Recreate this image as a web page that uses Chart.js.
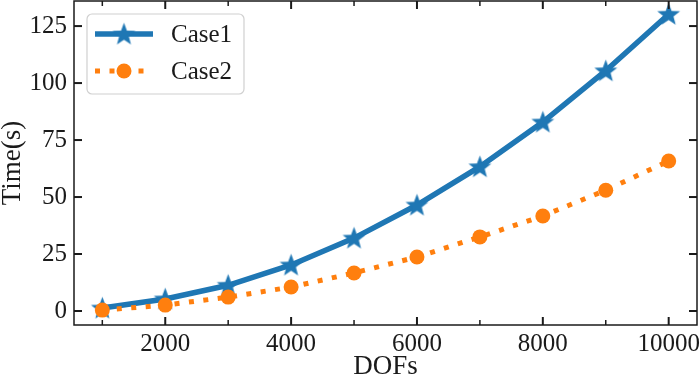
<!DOCTYPE html>
<html>
<head>
<meta charset="utf-8">
<script src="https://cdn.jsdelivr.net/npm/chart.js@4/dist/chart.umd.min.js"></script>
<style>
html,body{margin:0;padding:0;background:#fff;}
#wrap{width:700px;height:379px;position:relative;}
</style>
</head>
<body>
<div id="wrap"><canvas id="c" width="700" height="379"></canvas></div>
<script>
const dofs = [1000, 2000, 3000, 4000, 5000, 6000, 7000, 8000, 9000, 10000];
const case1 = [1.3, 5.3, 11.3, 20.2, 32.0, 46.5, 63.3, 82.9, 105.4, 130.2];
const case2 = [0.4, 2.6, 6.1, 10.5, 16.7, 23.7, 32.5, 41.7, 53.0, 65.8];
const xMajorTicks = [2000, 4000, 6000, 8000, 10000];
const xMinorTicks = [1000, 3000, 5000, 7000, 9000];
const yMajorTicks = [0, 25, 50, 75, 100, 125];
const seriesNames = ['Case1', 'Case2'];

const BLUE = '#1f77b4', ORANGE = '#ff7f0e', INK = '#1a1a1a';
const FONT = '"Liberation Serif", "Times New Roman", serif';

function makeStar(size, color) {
  const c = document.createElement('canvas');
  c.width = size; c.height = size;
  const g = c.getContext('2d');
  const cx = size / 2, cy = size / 2 + 0.8, R = size / 2 - 0.5, r = R * 0.42;
  g.beginPath();
  for (let i = 0; i < 10; i++) {
    const a = -Math.PI / 2 + i * Math.PI / 5;
    const rr = i % 2 === 0 ? R : r;
    const x = cx + rr * Math.cos(a), y = cy + rr * Math.sin(a);
    if (i === 0) g.moveTo(x, y); else g.lineTo(x, y);
  }
  g.closePath();
  g.fillStyle = color;
  g.fill();
  return c;
}
const starImg = makeStar(25, BLUE);

const framePlugin = {
  id: 'frame',
  afterDatasetsDraw(chart) {
    const {ctx, chartArea: a, scales} = chart;
    ctx.save();
    ctx.strokeStyle = INK;
    ctx.lineWidth = 2;
    const tick = (x1, y1, x2, y2) => { ctx.beginPath(); ctx.moveTo(x1, y1); ctx.lineTo(x2, y2); ctx.stroke(); };
    xMajorTicks.forEach(v => {
      const x = scales.x.getPixelForValue(v);
      tick(x, a.bottom, x, a.bottom - 8);
      tick(x, a.top, x, a.top + 8);
    });
    ctx.lineWidth = 1.5;
    xMinorTicks.forEach(v => {
      const x = scales.x.getPixelForValue(v);
      tick(x, a.bottom, x, a.bottom - 5);
      tick(x, a.top, x, a.top + 5);
    });
    ctx.lineWidth = 2;
    yMajorTicks.forEach(v => {
      const y = scales.y.getPixelForValue(v);
      tick(a.left, y, a.left + 8, y);
      tick(a.right, y, a.right - 8, y);
    });
    ctx.lineWidth = 1.5;
    ctx.strokeRect(a.left, a.top, a.right - a.left, a.bottom - a.top);
    ctx.restore();
  },
  afterDraw(chart) {
    const {ctx, chartArea: a} = chart;
    const ds = chart.data.datasets;
    ctx.save();
    const bx = a.left + 13, by = a.top + 13, bw = 157, bh = 80, rad = 5;
    ctx.beginPath();
    ctx.roundRect(bx, by, bw, bh, rad);
    ctx.fillStyle = 'rgba(255,255,255,0.85)';
    ctx.fill();
    ctx.strokeStyle = '#d0d0d0';
    ctx.lineWidth = 1.2;
    ctx.stroke();
    const rows = [by + 20, by + 57];
    ds.forEach((d, i) => {
      const y = rows[i];
      const x1 = bx + 8, x2 = bx + 66, xm = (x1 + x2) / 2;
      ctx.strokeStyle = d.borderColor;
      ctx.lineWidth = d.borderWidth;
      ctx.setLineDash(d.borderDash || []);
      ctx.beginPath(); ctx.moveTo(x1, y); ctx.lineTo(x2, y); ctx.stroke();
      ctx.setLineDash([]);
      if (d.pointStyle instanceof HTMLCanvasElement) {
        ctx.drawImage(d.pointStyle, xm - d.pointStyle.width / 2, y - d.pointStyle.height / 2);
      } else {
        ctx.beginPath(); ctx.arc(xm, y, d.pointRadius, 0, Math.PI * 2);
        ctx.fillStyle = d.pointBackgroundColor; ctx.fill();
      }
      ctx.fillStyle = INK;
      ctx.font = '25px ' + FONT;
      ctx.textBaseline = 'middle';
      ctx.textAlign = 'left';
      ctx.fillText(d.label, bx + 84, y + 1);
    });
    ctx.restore();
  }
};

new Chart(document.getElementById('c'), {
  type: 'line',
  data: {
    datasets: [
      {
        label: seriesNames[0],
        data: dofs.map((x, i) => ({x, y: case1[i]})),
        borderColor: BLUE, backgroundColor: BLUE,
        borderWidth: 5.5, pointStyle: starImg, pointRadius: 12.5,
        pointBackgroundColor: BLUE, tension: 0, order: 2, clip: false
      },
      {
        label: seriesNames[1],
        data: dofs.map((x, i) => ({x, y: case2[i]})),
        borderColor: ORANGE, backgroundColor: ORANGE,
        borderWidth: 5, borderDash: [5, 9.5], borderCapStyle: 'butt',
        pointStyle: 'circle', pointRadius: 7.5, pointBorderWidth: 0,
        pointBackgroundColor: ORANGE, tension: 0, order: 1, clip: false
      }
    ]
  },
  options: {
    responsive: false,
    animation: false,
    layout: {autoPadding: false, padding: {top: 1, right: 3, left: 0, bottom: 0}},
    plugins: {legend: {display: false}, tooltip: {enabled: false}},
    scales: {
      x: {
        type: 'linear', min: 550, max: 10450,
        grid: {display: false, drawTicks: false},
        border: {display: false},
        afterBuildTicks(s) { s.ticks = xMajorTicks.map(v => ({value: v})); },
        afterFit(s) { s.height = 54; s.paddingLeft = 0; s.paddingRight = 0; },
        ticks: {color: INK, font: {family: FONT, size: 25}, padding: 4, maxRotation: 0,
          callback: v => String(v)},
        title: {display: true, text: 'DOFs', color: INK, font: {family: FONT, size: 27}, padding: {top: 0, bottom: -4}}
      },
      y: {
        type: 'linear', min: -6.14, max: 136.0,
        grid: {display: false, drawTicks: false},
        border: {display: false},
        afterBuildTicks(s) { s.ticks = yMajorTicks.map(v => ({value: v})); },
        afterFit(s) { s.width = 74; s.paddingTop = 0; s.paddingBottom = 0; },
        ticks: {color: INK, font: {family: FONT, size: 25}, padding: 7, callback: v => String(v)},
        title: {display: true, text: 'Time(s)', color: INK, font: {family: FONT, size: 27}, padding: {top: -3, bottom: 0}}
      }
    }
  },
  plugins: [framePlugin]
});
</script>
</body>
</html>
